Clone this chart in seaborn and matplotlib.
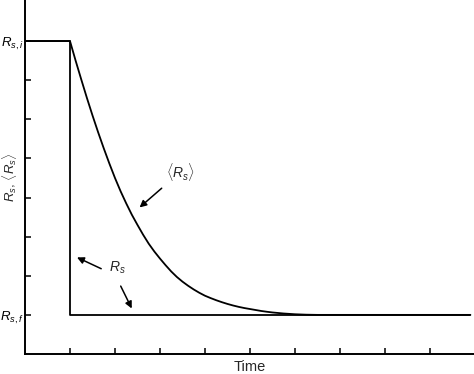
import numpy as np
import pandas as pd
import seaborn as sns
from matplotlib import pyplot as plt

# step change of R_s (instant)
step_time = [0.0, 1.0, 1.0, 9.9]
step_rs = [8.0, 8.0, 1.0, 1.0]

# time-averaged <R_s>
avg_time = [0.0, 1.0, 1.125, 1.25, 1.375, 1.5, 1.625, 1.75, 1.875, 2.0, 2.125,
            2.25, 2.375, 2.5, 2.625, 2.75, 2.875, 3.0, 3.125, 3.25, 3.375,
            3.5, 3.625, 3.75, 3.875, 4.0, 4.125, 4.25, 4.375, 4.5, 4.625,
            4.75, 4.875, 5.0, 5.125, 5.25, 5.375, 5.5, 5.75, 6.0, 6.25,
            6.5, 9.9]
avg_rs = [8.0, 8.0, 7.5, 7.02, 6.55, 6.1, 5.67, 5.26, 4.87, 4.5, 4.16,
          3.85, 3.56, 3.3, 3.05, 2.82, 2.62, 2.44, 2.27, 2.11, 1.97,
          1.85, 1.745, 1.65, 1.565, 1.49, 1.43, 1.375, 1.325, 1.28, 1.24,
          1.205, 1.175, 1.15, 1.125, 1.1, 1.08, 1.062, 1.035, 1.016, 1.005,
          1.0, 1.0]

ytick_pos = [1, 2, 3, 4, 5, 6, 7, 8]
ytick_labels = ['$R_{s,f}$', '', '', '', '', '', '', '$R_{s,i}$']
xtick_pos = [1, 2, 3, 4, 5, 6, 7, 8, 9]

sns.set_style("ticks")
plt.rcParams['font.family'] = ['Liberation Sans', 'DejaVu Sans']
plt.rcParams['mathtext.fontset'] = 'custom'
plt.rcParams['mathtext.rm'] = 'Liberation Sans'
plt.rcParams['mathtext.it'] = 'Liberation Sans:italic'

step_df = pd.DataFrame({'t': step_time, 'r': step_rs})
avg_df = pd.DataFrame({'t': avg_time, 'r': avg_rs})

fig = plt.figure(figsize=(4.74, 3.74), dpi=100)
ax = fig.add_axes([25 / 474, 20 / 374, 449 / 474, 354 / 374])

sns.lineplot(data=step_df, x='t', y='r', sort=False, estimator=None,
             color='black', lw=1.3, ax=ax)
sns.lineplot(data=avg_df, x='t', y='r', sort=False, estimator=None,
             color='black', lw=1.3, ax=ax)

ax.set_xlim(0, 9.98)
ax.set_ylim(0, 9.05)
ax.set_xticks(xtick_pos)
ax.set_xticklabels([])
ax.set_yticks(ytick_pos)
ax.set_yticklabels(ytick_labels, fontsize=9.5)
ax.tick_params(direction='in', length=4, width=1.1, colors='black')
ax.tick_params(axis='y', pad=1)

for side in ['top', 'right']:
    ax.spines[side].set_visible(False)
for side in ['left', 'bottom']:
    ax.spines[side].set_linewidth(1.4)
    ax.spines[side].set_color('black')

ax.set_xlabel('Time', fontsize=10.5, labelpad=1)
ax.set_ylabel(r'$R_s$, $\langle R_s\rangle$', fontsize=9.5)
ax.yaxis.set_label_coords(-0.014, 0.5)

arrow = dict(arrowstyle='-|>', color='black', lw=1.1, mutation_scale=10)
ax.annotate(r'$\langle R_s\rangle$', xy=(2.5, 3.7), xytext=(3.45, 4.65),
            ha='center', va='center', fontsize=10, arrowprops=arrow)
ax.annotate('', xy=(1.1, 2.5), xytext=(1.75, 2.15), arrowprops=arrow)
ax.annotate('', xy=(2.4, 1.1), xytext=(2.1, 1.8), arrowprops=arrow)
ax.text(2.05, 2.2, '$R_s$', ha='center', va='center', fontsize=10)

fig.savefig('out.png', dpi=100)
